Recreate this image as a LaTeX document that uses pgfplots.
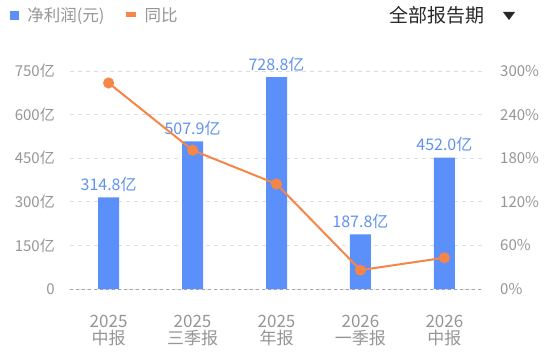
\documentclass[border=0pt]{standalone}
\usepackage{pgfplots}
\pgfplotsset{compat=1.18}
\usepackage{fontspec}
\setmainfont{Noto Sans CJK SC}
\definecolor{barblue}{RGB}{91,143,249}
\definecolor{lblblue}{RGB}{98,146,240}
\definecolor{lineorange}{RGB}{246,134,72}
\definecolor{tickgray}{RGB}{150,150,150}
\definecolor{gridgray}{RGB}{222,222,222}
\definecolor{basegray}{RGB}{165,165,165}
\definecolor{darktext}{RGB}{40,40,40}
\begin{document}
\begin{tikzpicture}
\path[fill=white,use as bounding box] (0,0) rectangle (548bp,363bp);
\begin{axis}[
  at={(70bp,74bp)}, anchor=south west,
  scale only axis, width=413bp, height=218bp,
  xmin=-0.46, xmax=4.46, ymin=0, ymax=750,
  axis line style={draw=none},
  major tick length=0pt,
  xtick={0,1,2,3,4},
  xticklabels={2025\\中报,2025\\三季报,2025\\年报,2026\\一季报,2026\\中报},
  xticklabel style={align=center, font=\fontsize{17bp}{17bp}\selectfont, text=tickgray, inner sep=0pt, yshift=-26bp},
  ytick={0,150,300,450,600,750},
  yticklabels={0,150亿,300亿,450亿,600亿,750亿},
  yticklabel style={font=\fontsize{15bp}{18bp}\selectfont, text=tickgray, inner sep=0pt, xshift=-15bp},
  ymajorgrids, grid style={gridgray, line width=0.8bp, dash pattern=on 4bp off 4bp},
  extra y ticks={0}, extra y tick labels={},
  extra y tick style={grid style={basegray, line width=0.8bp, dash pattern=on 3bp off 3bp}},
  clip=false,
]
\addplot[ybar, bar width=21bp, fill=barblue, draw=none,
  nodes near coords={\pgfmathprintnumber[fixed,precision=1,fixed zerofill]{\pgfplotspointmeta}亿},
  /pgf/number format/assume math mode=true,
  every node near coord/.append style={anchor=base, yshift=7bp, inner sep=0pt, text=lblblue, font=\fontsize{16bp}{18bp}\selectfont}]
  coordinates {(0,314.8) (1,507.9) (2,728.8) (3,187.8) (4,452.0)};
\end{axis}
\begin{axis}[
  at={(70bp,74bp)}, anchor=south west,
  scale only axis, width=413bp, height=218bp,
  xmin=-0.46, xmax=4.46, ymin=0, ymax=300,
  hide x axis,
  axis y line*=right,
  axis line style={draw=none},
  major tick length=0pt,
  ytick={0,60,120,180,240,300},
  yticklabels={0\%,60\%,120\%,180\%,240\%,300\%},
  yticklabel style={font=\fontsize{15bp}{18bp}\selectfont, text=tickgray, inner sep=0pt, anchor=west, xshift=17bp},
  clip=false,
  legend columns=2,
  legend style={at={(-0.1453,1.257)}, anchor=west, draw=none, fill=none, inner sep=0pt, outer sep=0pt,
    nodes={inner sep=0pt, text=tickgray, font=\fontsize{16.5bp}{18bp}\selectfont},
    /tikz/every odd column/.append style={column sep=9bp},
    /tikz/every even column/.append style={column sep=21bp}},
]
\addlegendimage{legend image code/.code={\fill[barblue] (0bp,-4bp) rectangle (8bp,4bp);}}
\addlegendentry{净利润(元)}
\addplot[lineorange, line width=2bp, mark=*, mark size=4.5bp, mark options={fill=lineorange, draw=lineorange},
  legend image code/.code={\fill[lineorange] (0bp,-1.5bp) rectangle (8bp,1.5bp);}]
  coordinates {(0,283.5) (1,191) (2,144.5) (3,26) (4,43)};
\addlegendentry{同比}
\end{axis}
\node[anchor=west, inner sep=0pt, text=darktext, font=\fontsize{19bp}{20bp}\selectfont] at (389bp,348bp) {全部报告期};
\fill[darktext] (503bp,351bp) -- (515bp,351bp) -- (509bp,343bp) -- cycle;
\end{tikzpicture}
\end{document}
